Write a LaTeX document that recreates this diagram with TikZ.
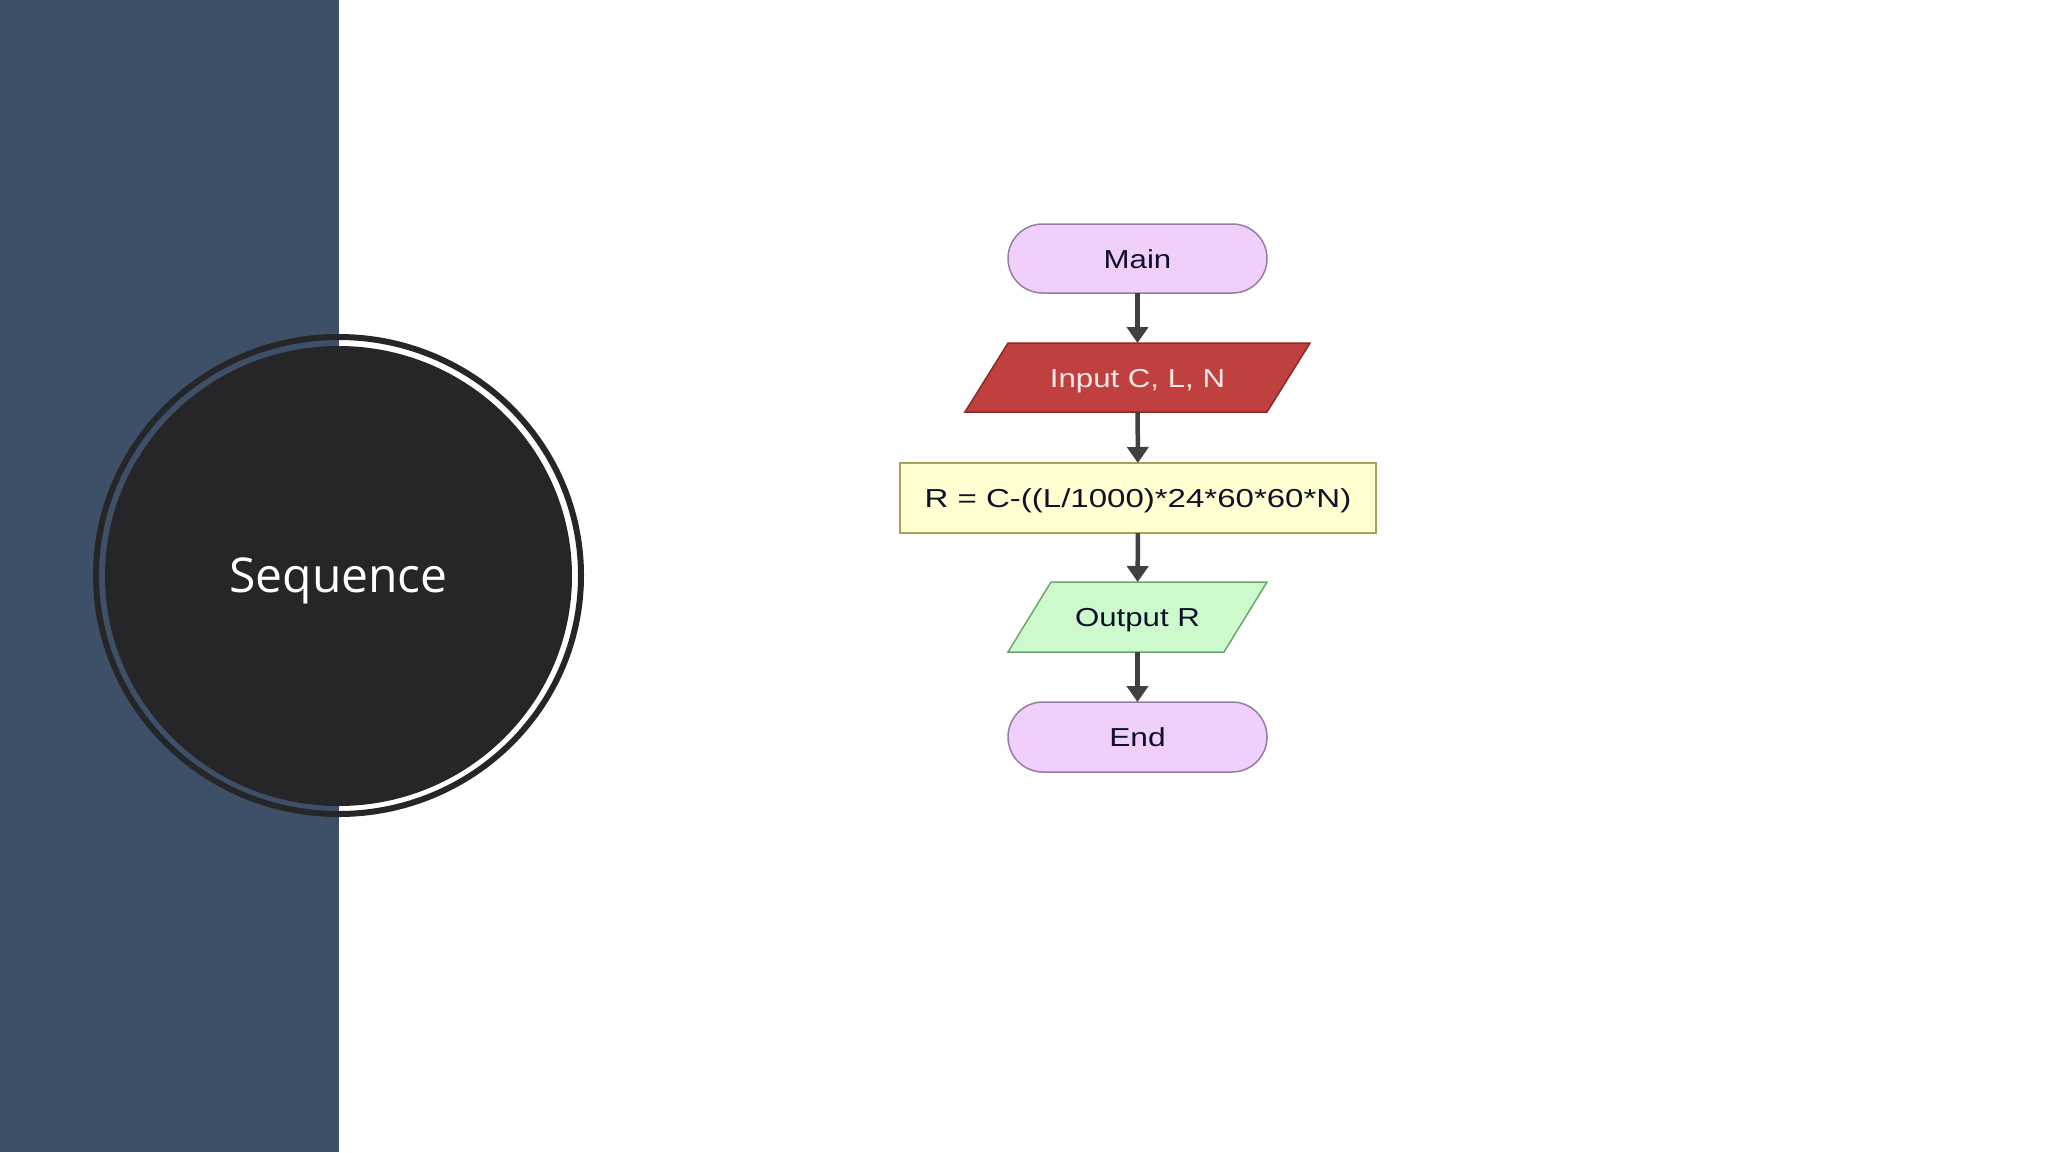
\documentclass[tikz,border=0pt]{standalone}
\usepackage{fontspec}
\usepackage{graphicx}
\newfontfamily\flowfont{Liberation Sans}
\newfontfamily\seqfont{Open Sans}
\usetikzlibrary{arrows.meta,backgrounds}
\definecolor{panelblue}{RGB}{61,80,104}
\definecolor{circdark}{RGB}{38,38,41}
\definecolor{termfill}{RGB}{240,208,250}
\definecolor{termdraw}{RGB}{150,125,165}
\definecolor{inpfill}{RGB}{192,64,64}
\definecolor{inpdraw}{RGB}{140,40,40}
\definecolor{inptext}{RGB}{252,232,232}
\definecolor{procfill}{RGB}{255,255,210}
\definecolor{procdraw}{RGB}{168,160,96}
\definecolor{outfill}{RGB}{204,250,204}
\definecolor{outdraw}{RGB}{110,165,110}
\definecolor{arrowgray}{RGB}{64,64,64}
\definecolor{flowtext}{RGB}{16,16,40}
\begin{document}
\begin{tikzpicture}[x=1pt,y=-1pt,
  ftext/.style={font=\flowfont\fontsize{26}{30}\selectfont, text=flowtext,
    text height=19pt, text depth=0pt, inner sep=0pt, outer sep=0pt},
  term/.style={ftext, rectangle, rounded corners=34.5pt, minimum width=259pt,
    minimum height=69pt, fill=termfill, draw=termdraw, line width=1.5pt},
  paranode/.style={ftext, rectangle, minimum height=69pt},
  procbox/.style={ftext, rectangle, minimum width=476pt, minimum height=70pt,
    fill=procfill, draw=procdraw, line width=1.5pt},
  inpshape/.style={fill=inpfill, draw=inpdraw, line width=1.5pt},
  outshape/.style={fill=outfill, draw=outdraw, line width=1.5pt},
  conn/.style={draw=arrowgray, line width=4.5pt,
    -{Triangle[width=21pt,length=16pt]}},
  seqlabel/.style={font=\seqfont\fontsize{48}{58}\selectfont, text=white,
    inner sep=0pt}
]
\useasboundingbox (0,0) rectangle (2048,1152);
\begin{scope}[on background layer]
  \fill[white] (0,0) rectangle (2048,1152);
  \fill[panelblue] (0,0) rectangle (338.5,1152);
\end{scope}

% circle
\fill[circdark] (338.5,576) ellipse[x radius=233.5pt, y radius=230pt];
\draw[circdark, line width=6pt] (338.5,575.5) ellipse[x radius=242.5pt, y radius=238.5pt];
\node[seqlabel, anchor=base] (seq) at (338.5,592) {Sequence};

% flowchart nodes
\node[term] (main) at (1137.5,258.5) {\scalebox{1.2}[1]{Main}};
\node[paranode, minimum width=302pt, text=inptext] (inp) at (1137.5,377.5)
  {\scalebox{1.2}[1]{Input C, L, N}};
\node[procbox] (proc) at (1138,498) {\scalebox{1.27}[1]{R = C-((L/1000)*24*60*60*N)}};
\node[paranode, minimum width=216pt, minimum height=70pt] (out) at (1137.5,617)
  {\scalebox{1.2}[1]{Output R}};
\node[term, minimum height=70pt, rounded corners=35pt] (fin) at (1137.5,737)
  {\scalebox{1.22}[1]{End}};

\begin{scope}[on background layer]
  \filldraw[inpshape] ([xshift=21.5pt]inp.north west) -- ([xshift=21.5pt]inp.north east)
    -- ([xshift=-21.5pt]inp.south east) -- ([xshift=-21.5pt]inp.south west) -- cycle;
  \filldraw[outshape] ([xshift=21.5pt]out.north west) -- ([xshift=21.5pt]out.north east)
    -- ([xshift=-21.5pt]out.south east) -- ([xshift=-21.5pt]out.south west) -- cycle;
\end{scope}

% connectors
\draw[conn] (main) -- (inp);
\draw[conn] (inp) -- (proc);
\draw[conn] (proc) -- (out);
\draw[conn] (out) -- (fin);
\end{tikzpicture}
\end{document}
